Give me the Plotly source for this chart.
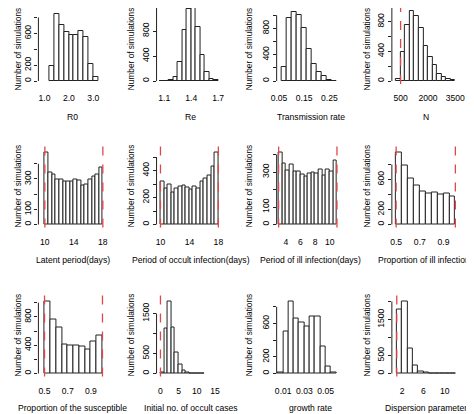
import plotly.graph_objects as go

# ---- data: histogram (first bin edge, bin width, counts) ----
r0_start, r0_w = 1.2, 0.2
r0_counts = [190, 850, 710, 620, 580, 580, 630, 560, 210, 50]
re_start, re_w = 1.05, 0.05
re_counts = [3, 5, 15, 60, 300, 820, 1160, 1180, 860, 420, 150, 40, 10]
tr_start, tr_w = 0.06, 0.02
tr_counts = [220, 960, 1050, 1000, 800, 480, 260, 140, 70, 20, 5]
n_start, n_w = 250, 250
n_counts = [30, 390, 760, 950, 880, 720, 470, 330, 220, 100, 50, 30, 10]
lat_start, lat_w = 10, 0.5
lat_counts = [475, 340, 330, 297, 297, 285, 285, 285, 297, 290, 260, 264, 299, 316, 330, 376]
occ_start, occ_w = 10, 0.5
occ_counts = [316, 270, 295, 240, 270, 285, 290, 275, 260, 280, 270, 320, 340, 360, 430, 530]
ill_start, ill_w = 3, 0.5
ill_counts = [411, 347, 310, 343, 305, 301, 286, 274, 291, 297, 291, 314, 278, 314, 305, 368]
pi_start, pi_w = 0.5, 0.05
pi_counts = [960, 790, 620, 525, 435, 413, 427, 400, 409, 378]
su_start, su_w = 0.5, 0.05
su_counts = [1010, 760, 650, 415, 400, 400, 385, 345, 455, 540]
ini_start, ini_w = 0, 1
ini_counts = [20, 1125, 1790, 1150, 520, 230, 80, 25, 10, 5, 2, 1]
gr_start, gr_w = 0.005, 0.005
gr_counts = [15, 500, 860, 660, 608, 560, 680, 684, 320, 80, 15]
di_start, di_w = 1, 1
di_counts = [1780, 1990, 700, 215, 65, 20, 10, 5, 3, 2, 1]

xlabels = ["R0", "Re", "Transmission rate", "N",
           "Latent period(days)", "Period of occult infection(days)", "Period of ill infection(days)", "Proportion of ill infections",
           "Proportion of the susceptible", "Initial no. of occult cases", "growth rate", "Dispersion parameter"]
xticks = [[1.0, 2.0, 3.0], [1.1, 1.4, 1.7], [0.05, 0.15, 0.25], [500, 2000, 3500],
          [10, 14, 18], [10, 14, 18], [4, 6, 8, 10], [0.5, 0.7, 0.9],
          [0.5, 0.7, 0.9], [0, 5, 10, 15], [0.01, 0.03, 0.05], [2, 6, 10]]
xticktext = [["1.0", "2.0", "3.0"], ["1.1", "1.4", "1.7"], ["0.05", "0.15", "0.25"], ["500", "2000", "3500"],
             ["10", "14", "18"], ["10", "14", "18"], ["4", "6", "8", "10"], ["0.5", "0.7", "0.9"],
             ["0.5", "0.7", "0.9"], ["0", "5", "10", "15"], ["0.01", "0.03", "0.05"], ["2", "6", "10"]]
yticks = [[0, 200, 400, 600, 800], [0, 400, 800, 1200], [0, 200, 400, 600, 800, 1000], [0, 200, 400, 600, 800, 1000],
          [0, 100, 200, 300, 400], [0, 100, 200, 300, 400, 500], [0, 100, 200, 300, 400], [0, 200, 400, 600, 800],
          [0, 200, 400, 600, 800, 1000], [0, 500, 1000, 1500], [0, 200, 400, 600, 800], [0, 500, 1000, 1500, 2000]]
ylabelled = [[0, 200, 600], [0, 400, 800, 1200], [0, 400, 800], [0, 400, 800],
             [0, 100, 300], [0, 200, 400], [0, 100, 300], [0, 200, 600],
             [0, 400, 800], [0, 500, 1500], [0, 200, 600], [0, 500, 1500]]
redlines = [[], [], [], [500], [10, 18], [10, 18], [3, 11], [0.5, 1.0], [0.5, 1.0], [0], [], [1]]

hists = [(r0_start, r0_w, r0_counts), (re_start, re_w, re_counts), (tr_start, tr_w, tr_counts), (n_start, n_w, n_counts),
         (lat_start, lat_w, lat_counts), (occ_start, occ_w, occ_counts), (ill_start, ill_w, ill_counts), (pi_start, pi_w, pi_counts),
         (su_start, su_w, su_counts), (ini_start, ini_w, ini_counts), (gr_start, gr_w, gr_counts), (di_start, di_w, di_counts)]

# ---- layout geometry (page pixels; page has an 8px body margin) ----
OFF = 8
W, H = 474 - OFF, 414 - OFF
col_left = [33, 154, 277, 395]
PW = 70
row_zero = [81, 224.5, 373.5]
PH = 82
xranges = [[0.75, 3.55], [1.014, 1.775], [0.0406, 0.312], [20, 3770],
           [9.11, 18.54], [9.46, 18.9], [2.73, 12.1], [0.464, 1.041],
           [0.447, 1.037], [-1.07, 17.7], [0.0038, 0.0683], [0.08, 12.9]]
ypx = [0.0794, 0.0625, 0.0658, 0.0742, 0.1517, 0.135, 0.175, 0.075, 0.0708, 0.04, 0.0833, 0.036]
xt_y = [117, 260, 408]
yt_x = [12.5, 128, 249, 370]
yt_c = [49, 186, 335]

def px(v):
    return (v - OFF) / W

def py(v):
    return 1 - (v - OFF) / H

FONT = "Liberation Sans"
FS = 8.6
fig = go.Figure()
shapes, annotations = [], []
layout = {}
for i, (start, w, counts) in enumerate(hists):
    r, c = divmod(i, 4)
    k = "" if i == 0 else str(i + 1)
    centers = [start + w * (j + 0.5) for j in range(len(counts))]
    fig.add_trace(go.Bar(x=centers, y=counts, width=w, xaxis="x" + k, yaxis="y" + k,
                         marker=dict(color="white", line=dict(color="#222", width=1)), showlegend=False))
    x0 = px(col_left[c])
    x1 = px(col_left[c] + PW)
    bot = row_zero[r] + 3
    top = max(bot - PH, OFF)
    yd = [py(bot), py(top)]
    s = ypx[i]
    layout["xaxis" + k] = dict(domain=[x0, x1], range=xranges[i], anchor="y" + k,
                               tickvals=xticks[i], ticktext=xticktext[i], ticks="outside", ticklen=6,
                               tickcolor="rgba(0,0,0,0)", tickangle=0, showgrid=False, zeroline=False, showline=False,
                               tickfont=dict(size=FS, family=FONT, color="black"))
    layout["yaxis" + k] = dict(domain=yd, range=[-3 / s, (bot - top - 3) / s], anchor="x" + k,
                               tickvals=yticks[i], ticktext=[str(v) if v in ylabelled[i] else "" for v in yticks[i]],
                               ticks="outside", ticklen=3, tickcolor="#222", tickangle=-90,
                               showgrid=False, zeroline=False, showline=False,
                               tickfont=dict(size=FS, family=FONT, color="black"))
    shapes.append(dict(type="line", xref="x" + k + " domain", yref="y" + k, x0=0, x1=0,
                       y0=0, y1=yticks[i][-1], line=dict(color="#222", width=1)))
    for v in redlines[i]:
        shapes.append(dict(type="line", xref="x" + k, yref="y" + k + " domain", x0=v, x1=v, y0=0, y1=1,
                           line=dict(color="#e04848", width=1.3, dash="dash")))
    annotations.append(dict(text=xlabels[i], xref="paper", yref="paper", x=(x0 + x1) / 2, y=py(xt_y[r]),
                            showarrow=False, xanchor="center", yanchor="middle",
                            font=dict(size=FS, family=FONT, color="black")))
    annotations.append(dict(text="Number of simulations", xref="paper", yref="paper", x=px(yt_x[c]),
                            y=py(yt_c[r]), showarrow=False, textangle=-90,
                            xanchor="center", yanchor="middle",
                            font=dict(size=8.3, family=FONT, color="black")))

fig.update_layout(width=W, height=H, margin=dict(l=0, r=0, t=0, b=0), plot_bgcolor="white",
                  paper_bgcolor="white", bargap=0, shapes=shapes, annotations=annotations, **layout)
fig.write_html("out.html")
